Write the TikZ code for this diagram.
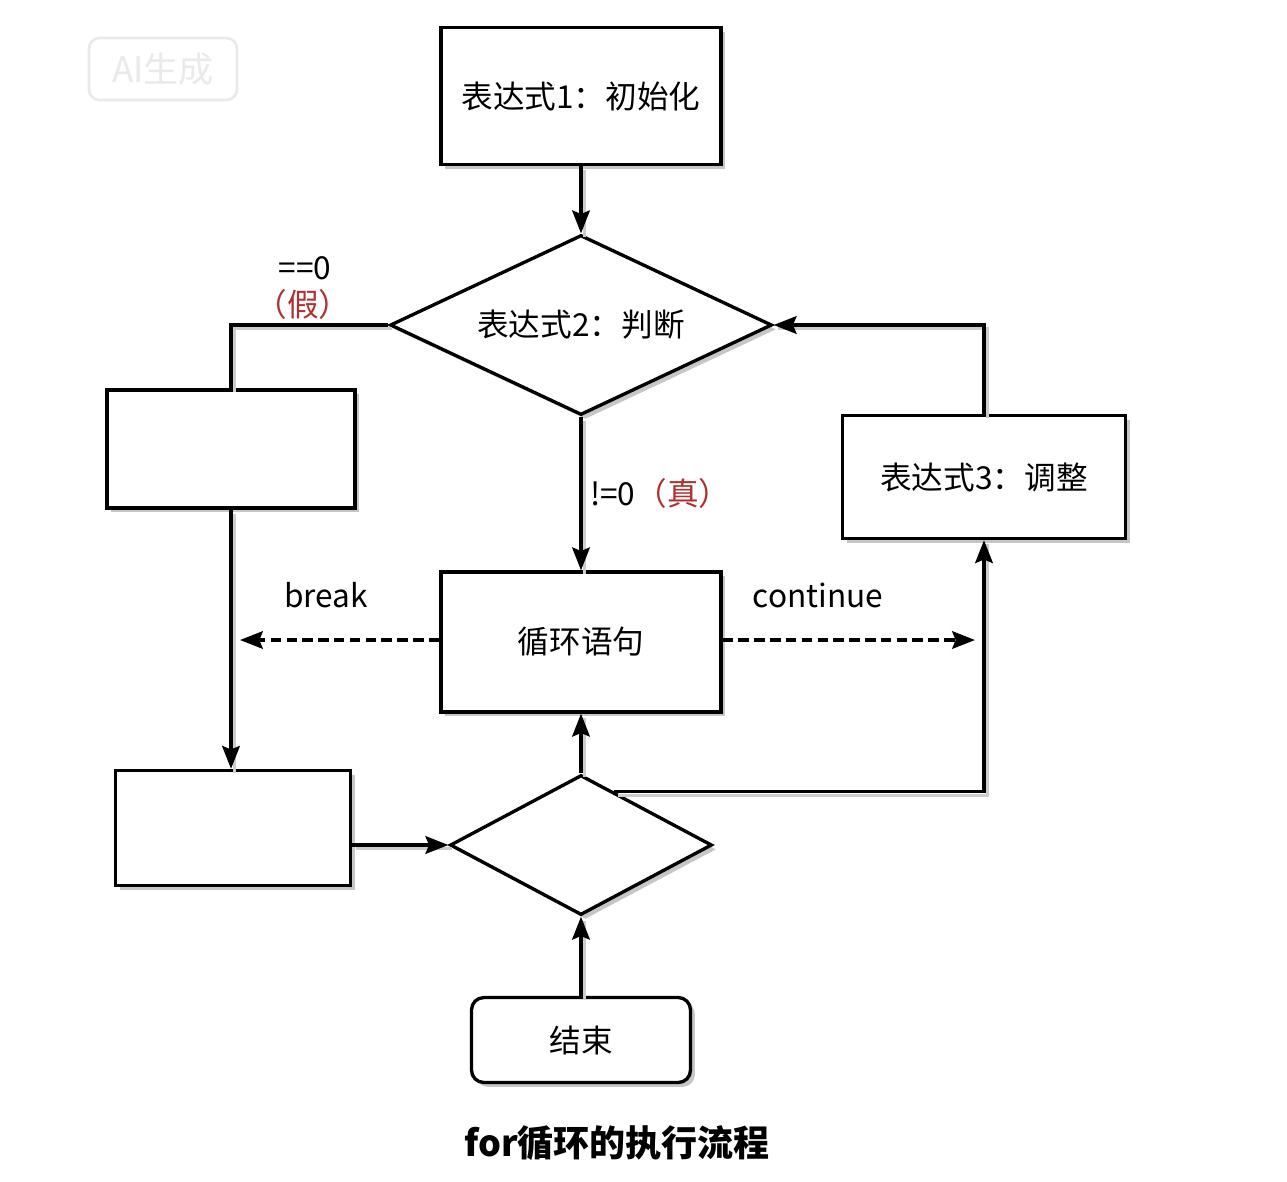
\documentclass[tikz,border=0pt]{standalone}
\usepackage{fontspec}
\setmainfont{Noto Sans CJK SC}
\usepackage{xcolor}
\usepackage{tikz}
\usetikzlibrary{arrows.meta,calc,positioning,shapes.geometric,shadows}
\definecolor{falsered}{RGB}{176,48,48}
\definecolor{markgray}{RGB}{234,234,234}

\tikzset{
  flowbox/.style={draw,line width=1.9pt,fill=white,inner sep=0pt,
    font=\fontsize{18}{21}\selectfont,
    drop shadow={shadow xshift=2.5pt,shadow yshift=-2.5pt,fill=gray!45,opacity=1}},
  flowdiamond/.style={flowbox,diamond,aspect=2},
  flowline/.style={line width=2pt,
    preaction={draw=gray!40,line width=1.6pt,-,transform canvas={xshift=2.2pt,yshift=-2.2pt}}},
  flowarrow/.style={flowline,-{Stealth[length=13pt,width=10pt,inset=2pt]}},
  jumparrow/.style={line width=1.8pt,dash pattern=on 6pt off 3pt,
    -{Stealth[length=13pt,width=10pt,inset=2pt]}},
  tag/.style={font=\fontsize{18}{21}\selectfont}
}

\begin{document}
\begin{tikzpicture}[x=0.02cm,y=-0.02cm,>=Latex]
  \useasboundingbox[fill=white] (0,0) rectangle (1287,1181);
  % watermark
  \node[draw=markgray,line width=1.5pt,rounded corners=6pt,text=markgray,
    minimum width=2.96cm,minimum height=1.24cm,font=\fontsize{20}{22}\selectfont] (mark) at (163,69) {AI生成};
  % boxes
  \node[flowbox,minimum width=5.6cm,minimum height=2.74cm] (init) at (581,96) {表达式1：初始化};
  \node[flowdiamond,minimum width=7.64cm,minimum height=3.6cm] (judge) at (581,325) {表达式2：判断};
  \node[flowbox,minimum width=4.96cm,minimum height=2.36cm] (exitA) at (231,449) {};
  \node[flowbox,minimum width=4.7cm,minimum height=2.3cm] (exitB) at (233,828) {};
  \node[flowbox,minimum width=5.6cm,minimum height=2.8cm] (body) at (581,642) {循环语句};
  \node[flowbox,minimum width=5.66cm,minimum height=2.46cm] (adjust) at (984,477) {表达式3：调整};
  \node[flowdiamond,minimum width=5.24cm,minimum height=2.8cm] (cond) at (581,845) {};
  \node[flowbox,rounded corners=7pt,minimum width=4.38cm,minimum height=1.7cm] (stop) at (581,1040) {结束};
  % connectors
  \draw[flowarrow] (init.south) -- (judge.north);
  \draw[flowline] (judge.west) -| (exitA.north);
  \draw[flowarrow] (exitA.south) -- (exitA.south |- exitB.north);
  \draw[flowarrow] (exitB.east |- cond.west) -- (cond.west);
  \draw[flowarrow] (judge.south) -- (body.north);
  \draw[flowarrow] (cond.north) -- (body.south);
  \coordinate (condedge) at ($(cond.north)!0.25!(cond.east)$);
  \draw[flowarrow] (condedge) -| (adjust.south);
  \draw[flowarrow] (adjust.north) |- (judge.east);
  \draw[flowarrow] (stop.north) -- (cond.south);
  % jumps
  \coordinate (breakend) at (240,640);
  \coordinate (contend) at (975,640);
  \draw[jumparrow] (body.west |- breakend) -- (breakend);
  \draw[jumparrow] (body.east |- contend) -- (contend);
  % labels
  \node[tag] (falseval) at (305,268) {==0};
  \node[tag,text=falsered] (falsetag) at (303,304) {（假）};
  \node[tag,anchor=west] (truetag) at (584,493) {!=0\textcolor{falsered}{（真）}};
  \node[tag] (breaktag) at (326,595) {break};
  \node[tag] (conttag) at (818,595) {continue};
  \node[font=\bfseries\fontsize{20.5}{24}\selectfont] (title) at (617,1143) {for循环的执行流程};
\end{tikzpicture}
\end{document}
